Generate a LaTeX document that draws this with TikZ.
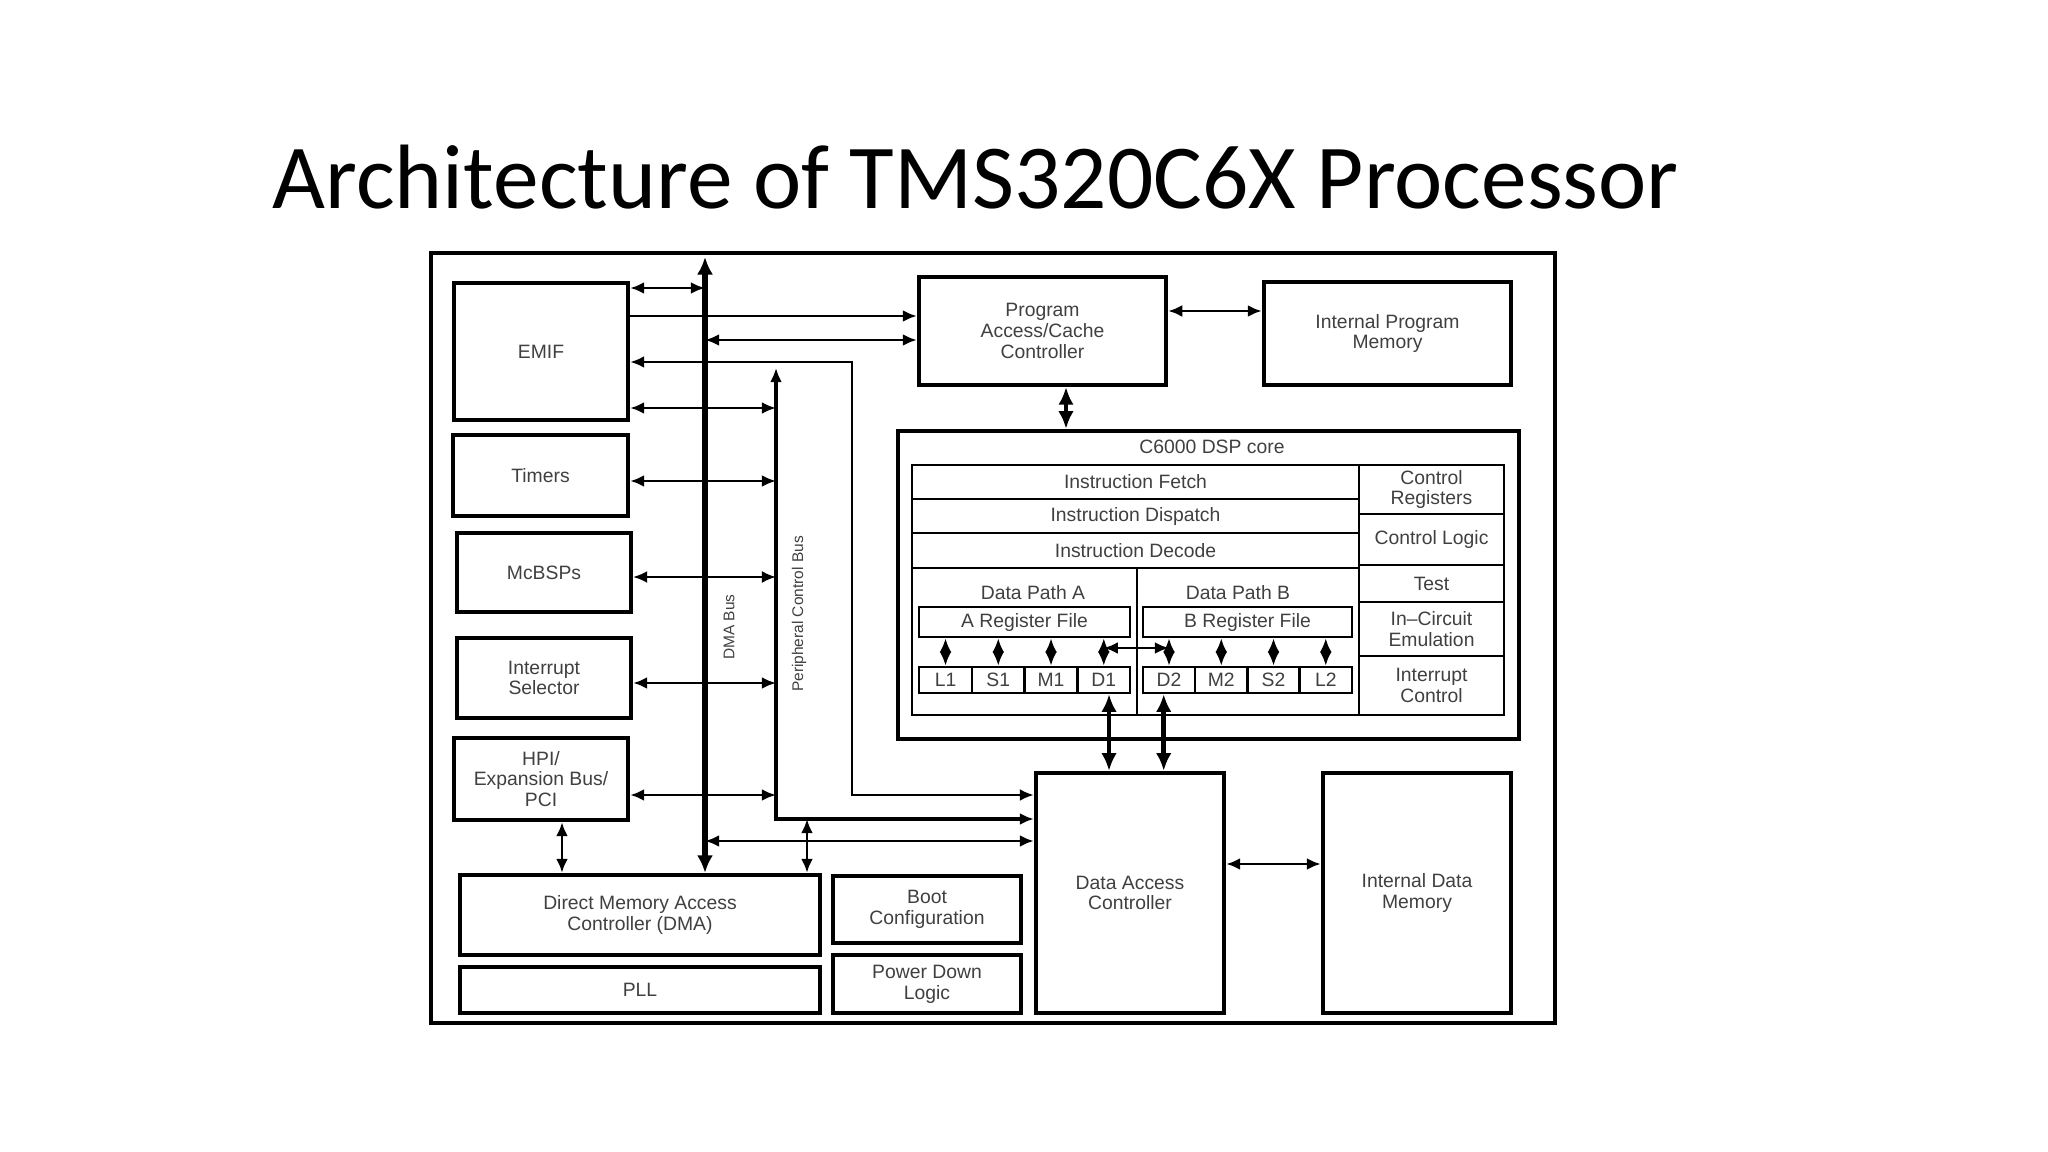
\documentclass[tikz,border=0pt]{standalone}
\usepackage{fontspec}
\setmainfont{Liberation Sans}
\newfontfamily\titlefont{Carlito}
\usepackage{tikz}
\usetikzlibrary{positioning,calc,arrows.meta}

\tikzset{
  blk/.style={draw, line width=1.2pt, inner sep=0pt, align=center},
  cell/.style={draw, line width=0.7pt, inner sep=0pt, align=center},
  lnk/.style={line width=0.8pt, <->},
  onearr/.style={line width=0.8pt, ->},
  thk/.style={line width=1.4pt, <->, >={Latex[length=5pt,width=4.4pt]}},
  dmabus/.style={line width=1.8pt, <->, >={Latex[length=5pt,width=4.6pt]}},
  pcbus/.style={line width=1.1pt, <->},
  buslbl/.style={font=\fontsize{4.4}{5}\selectfont, rotate=90},
}

\begin{document}
\begin{tikzpicture}[x=0.01cm, y=-0.01cm, >={Latex[length=4pt,width=3.4pt]},
  font=\fontsize{5.5}{5.9}\selectfont, text=black!75]
\useasboundingbox[fill=white] (0,0) rectangle (2048,1152);

% Titre
\node (title) at (272,209) [anchor=base west, inner sep=0pt, text=black,
  font=\titlefont\fontsize{26}{31}\selectfont] {Architecture of TMS320C6X Processor};

% Cadre extérieur
\node (frame) at (993,638) [blk, minimum width=11.24cm, minimum height=7.70cm] {};

% Périphériques à gauche
\node (emif) at (541,351.5) [blk, minimum width=1.74cm, minimum height=1.37cm] {EMIF};
\node (timers) at (540.5,475.5) [blk, minimum width=1.75cm, minimum height=0.81cm] {Timers};
\node (mcbsp) at (544,572.5) [blk, minimum width=1.74cm, minimum height=0.79cm] {McBSPs};
\node (intsel) at (544,678) [blk, minimum width=1.74cm, minimum height=0.80cm] {Interrupt\\Selector};
\node (hpi) at (541,779) [blk, minimum width=1.74cm, minimum height=0.82cm] {HPI/\\Expansion Bus/\\PCI};
\node (dma) at (640,915) [blk, minimum width=3.60cm, minimum height=0.80cm] {Direct Memory Access\\Controller (DMA)};
\node (pll) at (640,990) [blk, minimum width=3.60cm, minimum height=0.46cm] {PLL};
\node (boot) at (927,909.5) [blk, minimum width=1.88cm, minimum height=0.67cm] {Boot\\Configuration};
\node (pwr) at (927,984) [blk, minimum width=1.88cm, minimum height=0.58cm] {Power Down\\Logic};

% Mémoires et contrôleurs
\node (pac) at (1042.5,331) [blk, minimum width=2.47cm, minimum height=1.08cm] {Program\\Access/Cache\\Controller};
\node (ipm) at (1387.5,333.5) [blk, minimum width=2.47cm, minimum height=1.03cm] {Internal Program\\Memory};
\node (dac) at (1130,893) [blk, minimum width=1.88cm, minimum height=2.40cm] {Data Access\\Controller};
\node (idm) at (1417,893) [blk, minimum width=1.88cm, minimum height=2.40cm] {Internal Data\\Memory};

% Coeur DSP
\node (core) at (1208.5,585) [blk, minimum width=6.21cm, minimum height=3.08cm] {};
\node (corelbl) at (1212,447) {C6000 DSP core};
\node (fetch) at (1135.5,482) [cell, minimum width=4.47cm, minimum height=0.34cm] {Instruction Fetch};
\node (disp) at (1135.5,516) [cell, minimum width=4.47cm, minimum height=0.34cm] {Instruction Dispatch};
\node (dec) at (1135.5,550.5) [cell, minimum width=4.47cm, minimum height=0.35cm] {Instruction Decode};
\node (dpa) at (1024.5,641.5) [cell, minimum width=2.25cm, minimum height=1.47cm] {};
\node (dpb) at (1248,641.5) [cell, minimum width=2.22cm, minimum height=1.47cm] {};
\node (dpalbl) at (1033,593) {Data Path A};
\node (dpblbl) at (1238,593) {Data Path B};
\foreach \n/\y/\h/\t in {creg/489.5/0.49/{Control\\Registers}, clog/539.5/0.51/{Control Logic},
    test/583.5/0.37/{Test}, ice/629/0.54/{In–Circuit\\Emulation}, ictl/685.5/0.59/{Interrupt\\Control}} {
  \node (\n) at (1431.5,\y) [cell, minimum width=1.45cm, minimum height=\h cm] {\t};
}
\node (arf) at (1024.5,622) [cell, minimum width=2.11cm, minimum height=0.30cm] {A Register File};
\node (brf) at (1247.5,622) [cell, minimum width=2.09cm, minimum height=0.30cm] {B Register File};
\foreach \u [count=\i from 0] in {L1,S1,M1,D1} {
  \node (\u) at (945.5+\i*52.75,680) [cell, minimum width=0.5275cm, minimum height=0.26cm] {\u};
  \draw[lnk, line width=1pt] (\u.north |- arf.south) -- (\u.north);
}
\foreach \u [count=\i from 0] in {D2,M2,S2,L2} {
  \node (\u) at (1169+\i*52.25,680) [cell, minimum width=0.5225cm, minimum height=0.26cm] {\u};
  \draw[lnk, line width=1pt] (\u.north |- brf.south) -- (\u.north);
}
\draw[lnk] (D1.north |- 0,648) -- (D2.north |- 0,648);

% Liaisons coeur / mémoires
\coordinate (d1dn) at ([xshift=1.5pt]D1.south);
\coordinate (d2dn) at ([xshift=-1.5pt]D2.south);
\draw[thk] (d1dn) -- (d1dn |- dac.north);
\draw[thk] (d2dn) -- (d2dn |- dac.north);
\draw[thk] (pac.south -| 1066,0) -- (core.north -| 1066,0);
\draw[lnk] (pac.east |- 0,311) -- (ipm.west |- 0,311);
\draw[lnk] (dac.east |- 0,864) -- (idm.west |- 0,864);

% Bus DMA
\coordinate (dmatop) at (705,257);
\draw[dmabus] (dmatop) -- (dmatop |- dma.north);
\node (dmalbl) at (729,627) [buslbl] {DMA Bus};
\draw[lnk] (emif.east |- 0,288) -- (dmatop |- 0,288);
\draw[onearr] (emif.east |- 0,316) -- (pac.west |- 0,316);
\draw[lnk] (dmatop |- 0,340) -- (pac.west |- 0,340);
\draw[lnk] (dmatop |- 0,841) -- (dac.west |- 0,841);
\draw[lnk] (hpi.south -| 562,0) -- (dma.north -| 562,0);

% Bus de contrôle des périphériques
\coordinate (pcbtop) at (776,368);
\coordinate (pcbcorner) at (776,819);
\draw[pcbus] (pcbtop) -- (pcbcorner) -- (pcbcorner -| dac.west);
\node (pcblbl) at (799,614) [buslbl] {Peripheral Control Bus};
\draw[lnk] (emif.east |- 0,408) -- (pcbtop |- 0,408);
\draw[lnk] (timers.east |- 0,481) -- (pcbtop |- 0,481);
\draw[lnk, line width=0.6pt] (mcbsp.east |- 0,577) -- (pcbtop |- 0,577);
\draw[lnk] (intsel.east |- 0,683) -- (pcbtop |- 0,683);
\draw[lnk] (hpi.east |- 0,795) -- (pcbtop |- 0,795);
\coordinate (pcbdrop) at (807,819);
\draw[lnk] (pcbdrop) -- (pcbdrop |- dma.north);

% EMIF vers contrôleur de données
\coordinate (emifturn) at (852,362);
\draw[lnk, line width=0.7pt] (emif.east |- emifturn) -- (emifturn) -- (emifturn |- 0,795) -- (dac.west |- 0,795);
\end{tikzpicture}
\end{document}
